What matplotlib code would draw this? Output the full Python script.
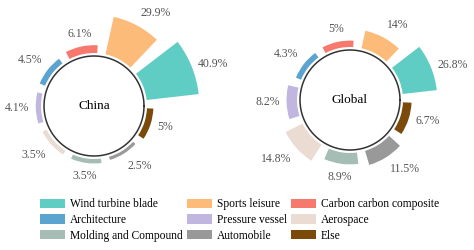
import matplotlib
import numpy as np

matplotlib.use("Agg")
import matplotlib.pyplot as plt
from matplotlib.patches import Patch

categories = ["Wind turbine blade", "Sports leisure", "Carbon carbon composite",
              "Architecture", "Pressure vessel", "Aerospace",
              "Molding and Compound", "Automobile", "Else"]
china = [40.9, 29.9, 6.1, 4.5, 4.1, 3.5, 3.5, 2.5, 5]
world = [26.8, 14, 5, 4.3, 8.2, 14.8, 8.9, 11.5, 6.7]
colors = ["#5fcdc4", "#fdbb7a", "#f7796d", "#5ba4cf", "#c0b6e0",
          "#eadbd3", "#a5bdb5", "#999999", "#7b4a0a"]

plt.rcParams["font.family"] = ["Liberation Serif", "DejaVu Serif"]

W, H = 474, 250
fig = plt.figure(figsize=(W / 100, H / 100), dpi=100)

R = 125          # axes radius in px, data units == px
HOLE = 50        # white circle radius
BASE = 53        # where bars start
SCALE = 1.28     # px per percent
PAD = 7


def rose(cx, cy, values, name):
    ax = fig.add_axes([(cx - R) / W, (H - cy - R) / H, 2 * R / W, 2 * R / H],
                      projection="polar")
    ax.set_ylim(0, R)
    ax.axis("off")
    n = len(values)
    theta = np.deg2rad(22 + 40 * np.arange(n))
    heights = np.array(values) * SCALE
    ax.bar(theta, heights, width=np.deg2rad(31), bottom=BASE,
           color=colors, edgecolor="none")
    t = np.linspace(0, 2 * np.pi, 200)
    ax.fill(t, np.full_like(t, HOLE), color="white", zorder=3)
    ax.plot(t, np.full_like(t, HOLE), color="#333333", lw=1.1, zorder=4)
    ax.text(0, 0, name, ha="center", va="center", fontsize=9.5, zorder=5)
    for th, h, v in zip(theta, heights, values):
        c, s = np.cos(th), np.sin(th)
        ha = "left" if c > 0.25 else ("right" if c < -0.25 else "center")
        va = "bottom" if s > 0.5 else ("top" if s < -0.5 else "center")
        ax.text(th, BASE + h + PAD, f"{v:g}%", ha=ha, va=va,
                fontsize=8.5, color="#555555")


rose(94, 106, china, "China")
rose(350, 100, world, "Global")

order = [0, 3, 6, 1, 4, 7, 2, 5, 8]
handles = [Patch(facecolor=colors[i], edgecolor="none", label=categories[i])
           for i in order]
fig.legend(handles=handles, ncol=3, loc="center", bbox_to_anchor=(0.505, 0.12),
           frameon=False, fontsize=8.3, handlelength=2.2, handleheight=0.9,
           handletextpad=0.4, columnspacing=0.35, labelspacing=0.32,
           borderaxespad=0)

fig.savefig("out.png", dpi=100)
